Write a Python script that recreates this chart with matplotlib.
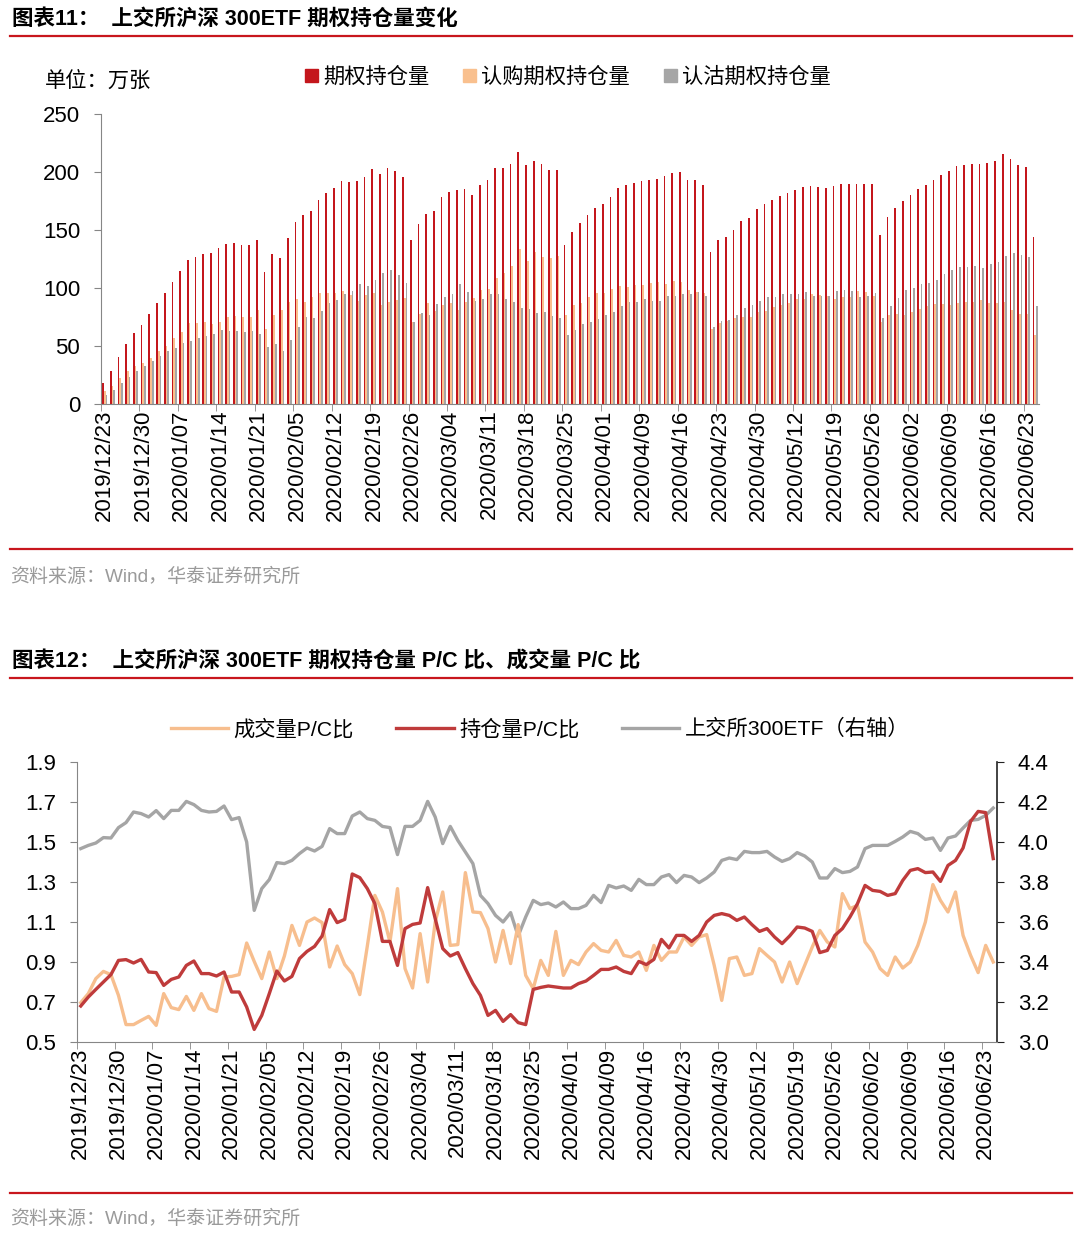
import matplotlib
matplotlib.use('Agg')
from matplotlib import pyplot as plt
from matplotlib.lines import Line2D
from matplotlib.patches import Patch
import numpy as np
import pandas as pd

plt.rcParams['font.family'] = ['Liberation Sans', 'Noto Sans CJK SC']
plt.rcParams['axes.unicode_minus'] = False

# trading days 2019/12/23 - 2020/06/24
holidays = ['2020-01-01', '2020-01-24', '2020-01-27', '2020-01-28', '2020-01-29',
            '2020-01-30', '2020-01-31', '2020-04-06', '2020-05-01', '2020-05-04',
            '2020-05-05']
days = pd.bdate_range('2019-12-23', '2020-06-24')
days = days[~days.isin(pd.to_datetime(holidays))]
day_labels = [d.strftime('%Y/%m/%d') for d in days]

# chart 1: open interest (万张)
oi_total = [17.8, 28.7, 40.7, 51.6, 61.3, 68.2, 77.4, 87.1, 96.0, 105.4, 114.6, 123.8, 126.9,
            129.2, 129.8, 134.7, 138.1, 139.0, 137.0, 137.5, 141.0, 113.8, 128.9, 126.1, 143.3,
            157.0, 163.3, 166.2, 175.9, 182.2, 186.2,
            192.6, 191.7, 192.3, 196.0, 202.6, 198.6, 203.2, 200.6, 195.7, 141.5, 155.6, 163.6,
            166.5, 178.2, 182.5, 184.5, 185.1, 180.5, 188.8, 193.4, 203.4, 203.4, 207.2, 216.9,
            205.7, 209.7, 206.6, 201.7, 201.7, 136.7, 148.7,
            156.2, 163.0, 169.1, 172.5, 178.5, 186.5, 188.8, 190.8, 192.6, 192.8, 194.3, 196.6,
            198.9, 200.0, 193.1, 193.1, 189.1, 131.2, 141.3, 143.6, 150.4, 157.6, 160.7, 168.2,
            172.8, 175.9, 179.7, 182.0, 184.8, 187.4, 188.3,
            187.4, 186.5, 188.3, 190.0, 190.0, 189.7, 189.4, 189.4, 145.6, 161.0, 169.3, 174.8,
            179.9, 185.7, 188.8, 193.1, 197.7, 200.9, 205.4, 205.7, 206.9, 207.2, 207.4, 209.7,
            215.2, 211.5, 205.7, 204.3, 143.6]
oi_call = [11.5, 15.8, 22, 28.6, 32.6, 35.5, 40, 45.6, 50, 57, 62, 70, 69.6, 70.5, 69, 70.5,
           75, 76, 75, 74.7, 80.8, 64.5, 76.8, 80.8, 87.7, 90.5, 88, 92, 95.7, 95.4, 96,
           97.5, 94.3, 89, 94.3, 96, 85.4, 87.7, 89.4, 91.1, 70.7, 77.4, 86.8, 80.5, 85.6, 87.4,
           80.8, 88.3, 91.7, 98, 98.8, 108.8, 113.1, 118.9, 133.8, 123.5, 130.9, 126.9, 125.7,
           127.2, 77.1, 85.1,
           87.4, 92, 96, 96, 98.8, 101.7, 101.1, 102.5, 102.3, 104, 105.5, 103.5, 105.8, 105.4,
           98.5, 96.3, 96, 64.7, 69.7, 71.4, 73.9, 75.1, 75.3, 79.4, 80.5, 83.6, 85.1, 87.4,
           90.2, 90.8, 95,
           94.3, 93.4, 90.9, 92, 92.6, 97.4, 96.3, 93.4, 71.1, 76.5, 77.6, 76.5, 79.6, 82, 84.5,
           86.2, 86, 85.4, 87.1, 87.7, 88.3, 89.7, 87.1, 87.1, 87.7, 81.1, 77.6, 77.4, 59.1]
oi_put = [7.7, 12.3, 18.3, 23, 28.7, 32.7, 37.2, 41.5, 45.8, 48.1, 52.7, 53.9, 57.3, 58.7, 60.7,
          64.2, 63, 63, 62.2, 62.8, 60.2, 49.3, 52.1, 45.3, 55.6, 66.5, 75, 74, 80.2, 86.8, 90,
          95.1, 97.4, 103.2, 101.7, 106.6, 113.2, 115.5, 111.2, 104.6, 70.8, 78.2, 76.8, 86,
          92.6, 95.1, 103.7, 96.8, 88.8, 90.8, 94.6, 94.6, 90.3, 88.3, 83.1, 82.2, 78.8, 79.7,
          76, 74.5, 59.6, 63.6,
          68.8, 71, 73, 76.5, 79.7, 84.8, 87.7, 88.3, 90.3, 88.8, 88.8, 93.1, 93.1, 94.6, 94.6,
          96.8, 93.1, 66.5, 71.6, 72.2, 76.5, 82.5, 85.4, 88.8, 92.3, 92.3, 94.6, 94.6, 94.6,
          96.6, 93,
          93.1, 93.1, 97.4, 98, 97.4, 92.3, 93.1, 96, 74.5, 84.5, 91.7, 98.3, 100.3, 103.7,
          104.3, 106.9, 111.7, 115.5, 118.3, 118, 118.6, 117.5, 120.3, 122.6, 127.5, 130.4,
          128.1, 126.9, 84.5]

# chart 2: P/C ratios (left) and 300ETF price (right)
pc_volume = [0.697, 0.742, 0.817, 0.853, 0.837, 0.733, 0.587, 0.587, 0.608, 0.628, 0.583,
             0.742, 0.672, 0.662, 0.728, 0.658, 0.742, 0.667, 0.653, 0.825, 0.828, 0.837,
             0.995, 0.903, 0.817, 0.95, 0.817, 0.93, 1.083, 0.983, 1.1, 1.12, 1.097, 0.875,
             0.98, 0.887, 0.842, 0.737, 0.98, 1.233, 1.15, 1.0,
             1.267, 0.867, 0.77, 1.042, 0.8, 1.1, 1.25, 0.983, 0.987, 1.347, 1.15, 1.147,
             1.067, 0.9, 1.058, 0.892, 1.087, 0.833, 0.767, 0.908, 0.833, 1.053,
             0.833, 0.908, 0.887, 0.95, 0.992, 0.958, 0.95, 1.008, 0.933, 0.925, 0.95, 0.858,
             0.983, 0.908, 0.95, 0.95, 1.025, 0.983, 1.025, 1.037, 0.883, 0.708, 0.917, 0.925,
             0.833, 0.842, 0.967, 0.933, 0.9, 0.8, 0.9, 0.792, 0.883, 0.975, 1.058, 1.0, 0.975,
             1.242, 1.167, 1.183, 1.0, 0.95, 0.867, 0.833, 0.925, 0.87, 0.9, 0.983, 1.1, 1.287,
             1.208, 1.15, 1.25, 1.033, 0.933, 0.847, 0.983, 0.9]
pc_oi = [0.68, 0.725, 0.763, 0.8, 0.837, 0.908, 0.912, 0.895, 0.913, 0.85, 0.847, 0.783,
         0.813, 0.825, 0.883, 0.905, 0.842, 0.842, 0.83, 0.85, 0.75, 0.75, 0.675, 0.563,
         0.633, 0.742, 0.855, 0.805, 0.828, 0.917, 0.953, 0.978, 1.03, 1.162, 1.097, 1.113,
         1.34, 1.322, 1.267, 1.192, 1.003, 1.003, 0.883, 1.067, 1.088, 1.095, 1.272, 1.117,
         0.967, 0.93, 0.947, 0.867, 0.792, 0.733, 0.633, 0.658, 0.603, 0.637, 0.597, 0.587,
         0.763, 0.773, 0.78, 0.775,
         0.77, 0.77, 0.792, 0.805, 0.833, 0.863, 0.863, 0.875, 0.853, 0.842, 0.903, 0.887,
         0.913, 1.013, 0.97, 1.033, 1.033, 1.003, 1.033, 1.1, 1.133, 1.142, 1.133, 1.108,
         1.125, 1.087, 1.053, 1.067, 1.025, 0.992, 1.03, 1.075, 1.07, 1.053, 0.947, 0.958,
         1.033, 1.067, 1.125, 1.192, 1.283, 1.258, 1.253, 1.233, 1.242, 1.308, 1.358, 1.367,
         1.347, 1.35, 1.303, 1.383, 1.408, 1.47, 1.603, 1.653, 1.647, 1.417]
etf_300 = [3.967, 3.983, 3.995, 4.022, 4.02, 4.072, 4.097, 4.15, 4.142, 4.125, 4.157, 4.117,
           4.158, 4.158, 4.203, 4.187, 4.158, 4.15, 4.153, 4.18, 4.112, 4.122, 4.0, 3.658,
           3.767, 3.812, 3.897, 3.892, 3.908, 3.942, 3.97, 3.955, 3.978, 4.067, 4.042, 4.042,
           4.13, 4.15, 4.117, 4.108, 4.078, 4.072, 3.937, 4.078, 4.078, 4.108, 4.203, 4.125,
           3.992, 4.078, 4.008, 3.95, 3.892, 3.733, 3.692, 3.633, 3.6, 3.647, 3.53, 3.625,
           3.708, 3.687, 3.695, 3.675,
           3.7, 3.667, 3.667, 3.683, 3.733, 3.697, 3.783, 3.77, 3.78, 3.758, 3.813, 3.787,
           3.787, 3.825, 3.837, 3.797, 3.833, 3.825, 3.797, 3.82, 3.85, 3.908, 3.92, 3.912,
           3.953, 3.947, 3.947, 3.953, 3.925, 3.903, 3.917, 3.947, 3.93, 3.9, 3.82, 3.82,
           3.867, 3.847, 3.853, 3.875, 3.967, 3.983, 3.983, 3.983, 4.003, 4.025, 4.053, 4.042,
           4.013, 4.02, 3.958, 4.02, 4.03, 4.07, 4.108, 4.113, 4.133, 4.17]

W, H = 1080, 1238
RED_LINE = '#C8161D'


def fx(px):
    return px / W


def fy(py):
    return 1 - py / H


def rect(l, t, r, b):
    return [fx(l), fy(b), fx(r) - fx(l), (b - t) / H]


fig = plt.figure(figsize=(W / 100, H / 100), dpi=100)

# headers / footers
fig.text(fx(12), fy(19), '图表11：  上交所沪深 300ETF 期权持仓量变化', fontsize=15.5,
         fontweight='bold', va='center', ha='left')
fig.text(fx(12), fy(662), '图表12：  上交所沪深 300ETF 期权持仓量 P/C 比、成交量 P/C 比',
         fontsize=15.5, fontweight='bold', va='center', ha='left')
for yy in (36, 549, 678, 1193):
    fig.add_artist(Line2D([fx(10), fx(1072)], [fy(yy), fy(yy)], color=RED_LINE, lw=1.6))
for yy in (577, 1219):
    fig.text(fx(10), fy(yy), '资料来源：Wind，华泰证券研究所', fontsize=13.7, color='#9A9A9A',
             va='center', ha='left')

x = np.arange(len(days))
tick_idx = x[::5]
GRAY_AX = '#868686'

# ---------- chart 1 ----------
ax1 = fig.add_axes(rect(101, 114, 1039, 404))
bw = 0.22
ax1.bar(x - bw, oi_total, width=bw, color='#C4161C', label='期权持仓量')
ax1.bar(x, oi_call, width=bw, color='#F9C08E', label='认购期权持仓量')
ax1.bar(x + bw, oi_put, width=bw, color='#A6A6A6', label='认沽期权持仓量')
ax1.set_xlim(-0.5, len(x) - 0.5)
ax1.set_ylim(0, 250)
ax1.set_yticks(np.arange(0, 251, 50))
fig.text(fx(45), fy(81), '单位：万张', fontsize=15.3, va='center', ha='left')

handles1 = [Patch(color='#C4161C'), Patch(color='#F9C08E'), Patch(color='#A6A6A6')]
fig.legend(handles1, ['期权持仓量', '认购期权持仓量', '认沽期权持仓量'], loc='center',
           bbox_to_anchor=(fx(568), fy(77)), ncol=3, frameon=False, fontsize=15.3,
           handlelength=0.6, handleheight=0.6, handletextpad=0.25, columnspacing=1.6)

# ---------- chart 2 ----------
ax2 = fig.add_axes(rect(77, 762, 997, 1042))
ax2r = ax2.twinx()
l3, = ax2r.plot(x, etf_300, color='#A5A5A5', lw=2.4, label='上交所300ETF（右轴）')
l1, = ax2.plot(x, pc_volume, color='#F7BE8E', lw=2.4, label='成交量P/C比')
l2, = ax2.plot(x, pc_oi, color='#BF3B3B', lw=2.4, label='持仓量P/C比')
ax2.set_zorder(ax2r.get_zorder() + 1)
ax2.patch.set_visible(False)
ax2.set_xlim(-0.5, len(x) - 0.5)
ax2.set_ylim(0.5, 1.9)
ax2.set_yticks(np.round(np.arange(0.5, 1.91, 0.2), 1))
ax2.set_yticklabels(['{:.1f}'.format(v) for v in np.arange(0.5, 1.91, 0.2)])
ax2r.set_ylim(3.0, 4.4)
ax2r.set_yticks(np.round(np.arange(3.0, 4.41, 0.2), 1))
ax2r.set_yticklabels(['{:.1f}'.format(v) for v in np.arange(3.0, 4.41, 0.2)])
fig.legend([l1, l2, l3], [l1.get_label(), l2.get_label(), l3.get_label()], loc='center',
           bbox_to_anchor=(fx(540), fy(729)), ncol=3, frameon=False, fontsize=15.3,
           handlelength=2.7, handletextpad=0.25, columnspacing=2.0)

for ax in (ax1, ax2):
    ax.set_xticks(tick_idx)
    ax.set_xticklabels([day_labels[i] for i in tick_idx], rotation=90, fontsize=16)
    ax.set_xticks(tick_idx - 0.5, minor=True)
    ax.tick_params(axis='x', which='major', length=0, pad=4)
    ax.tick_params(axis='x', which='minor', length=5, color=GRAY_AX, direction='out')
    ax.tick_params(axis='y', length=5, color=GRAY_AX, direction='out', labelsize=16, pad=10)
    for s in ('top', 'right'):
        ax.spines[s].set_visible(False)
    ax.spines['left'].set_color(GRAY_AX)
    ax.spines['bottom'].set_color(GRAY_AX)

for s in ('top', 'left', 'bottom'):
    ax2r.spines[s].set_visible(False)
ax2r.spines['right'].set_color('#222222')
ax2r.spines['right'].set_linewidth(1.2)
ax2r.tick_params(axis='y', length=5, color='#222222', direction='out', labelsize=16, pad=10)

fig.savefig('out.png', dpi=100)
